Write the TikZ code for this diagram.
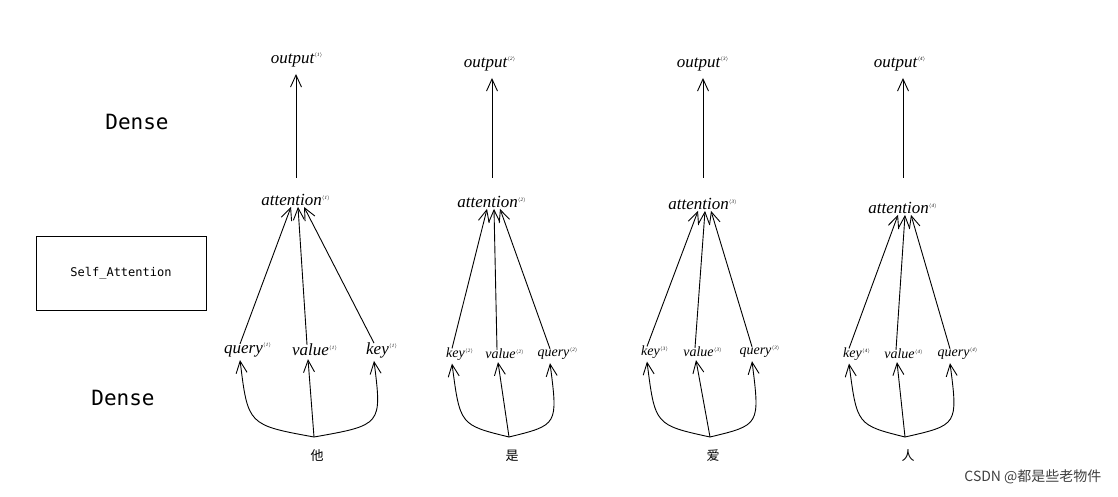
\documentclass[tikz,border=0pt]{standalone}
\usepackage{fontspec}
\setmainfont{Liberation Serif}
\newfontfamily\monof{DejaVu Sans Mono}
\newfontfamily\cjk{Noto Sans CJK SC}
\usetikzlibrary{arrows.meta}
\tikzset{
 x=1pt,y=-1pt,
 lbl/.style={font=\itshape\fontsize{17}{17}\selectfont,inner sep=1pt},
 slbl/.style={font=\itshape\fontsize{14}{14}\selectfont,inner sep=1pt},
 ch/.style={font=\cjk\fontsize{13}{13}\selectfont,inner sep=1pt},
 dense/.style={font=\monof\fontsize{21}{21}\selectfont},
 arr/.style={draw,line width=0.9pt,-{Straight Barb[length=12pt,width=11pt,line width=0.9pt]}},
}
\newcommand{\tg}[1]{\textsuperscript{\tiny$\langle$#1$\rangle$}}
\begin{document}
\begin{tikzpicture}
\useasboundingbox (0,0) rectangle (1118,497);
\node[dense] (d1) at (137,122) {Dense};
\node[dense] (d2) at (123,398) {Dense};
\node[draw,line width=0.9pt,minimum width=170pt,minimum height=74pt,font=\monof\fontsize{12}{12}\selectfont] (sa) at (121,273) {Self\_Attention};
\foreach \i/\ox/\oy/\ax/\ay/\wa/\xa/\wb/\xb/\wc/\xc/\wy/\fs/\cx/\cc in {
 1/297/60/296/200/query/248/value/315/key/382/350/lbl/317/他,
 2/490/64/492/202/key/460/value/505/query/558/354/slbl/512/是,
 3/703/64/703/204/key/655/value/703/query/760/352/slbl/713/爱,
 4/900/64/903/208/key/857/value/904/query/958/354/slbl/908/人}{
 \node[lbl] (o\i) at (\ox,\oy) {output\tg{\i}};
 \node[lbl] (a\i) at (\ax,\ay) {attention\tg{\i}};
 \node[\fs] (wa\i) at (\xa,\wy) {\wa\tg{\i}};
 \node[\fs] (wb\i) at (\xb,\wy) {\wb\tg{\i}};
 \node[\fs] (wc\i) at (\xc,\wy) {\wc\tg{\i}};
 \node[ch] (c\i) at (\cx,456) {\cc};
 \coordinate (ct\i) at (\cx-3,437);
 \coordinate (ob\i) at (\ax,\oy+14);
 \coordinate (ab\i) at (\ax,178);
 \draw[arr] (ab\i) -- (ob\i);
 \draw[arr] ([xshift=-8pt,yshift=-2pt]wa\i.north) -- ([xshift=-5pt]a\i.south);
 \draw[arr] ([xshift=-8pt,yshift=-2pt]wb\i.north) -- ([xshift=2pt]a\i.south);
 \draw[arr] ([xshift=-8pt,yshift=-2pt]wc\i.north) -- ([xshift=8pt]a\i.south);
 \draw[arr] (ct\i) .. controls (\xa,425) .. ([xshift=-8pt,yshift=-2pt]wa\i.south);
 \draw[arr] (ct\i) -- ([xshift=-7pt,yshift=-2pt]wb\i.south);
 \draw[arr] (ct\i) .. controls (\xc,425) .. ([xshift=-8pt,yshift=-2pt]wc\i.south);
}
\node[font=\cjk\fontsize{14}{14}\selectfont,text=black!75,anchor=east] (wm) at (1105,477) {CSDN @都是些老物件};
\end{tikzpicture}
\end{document}
